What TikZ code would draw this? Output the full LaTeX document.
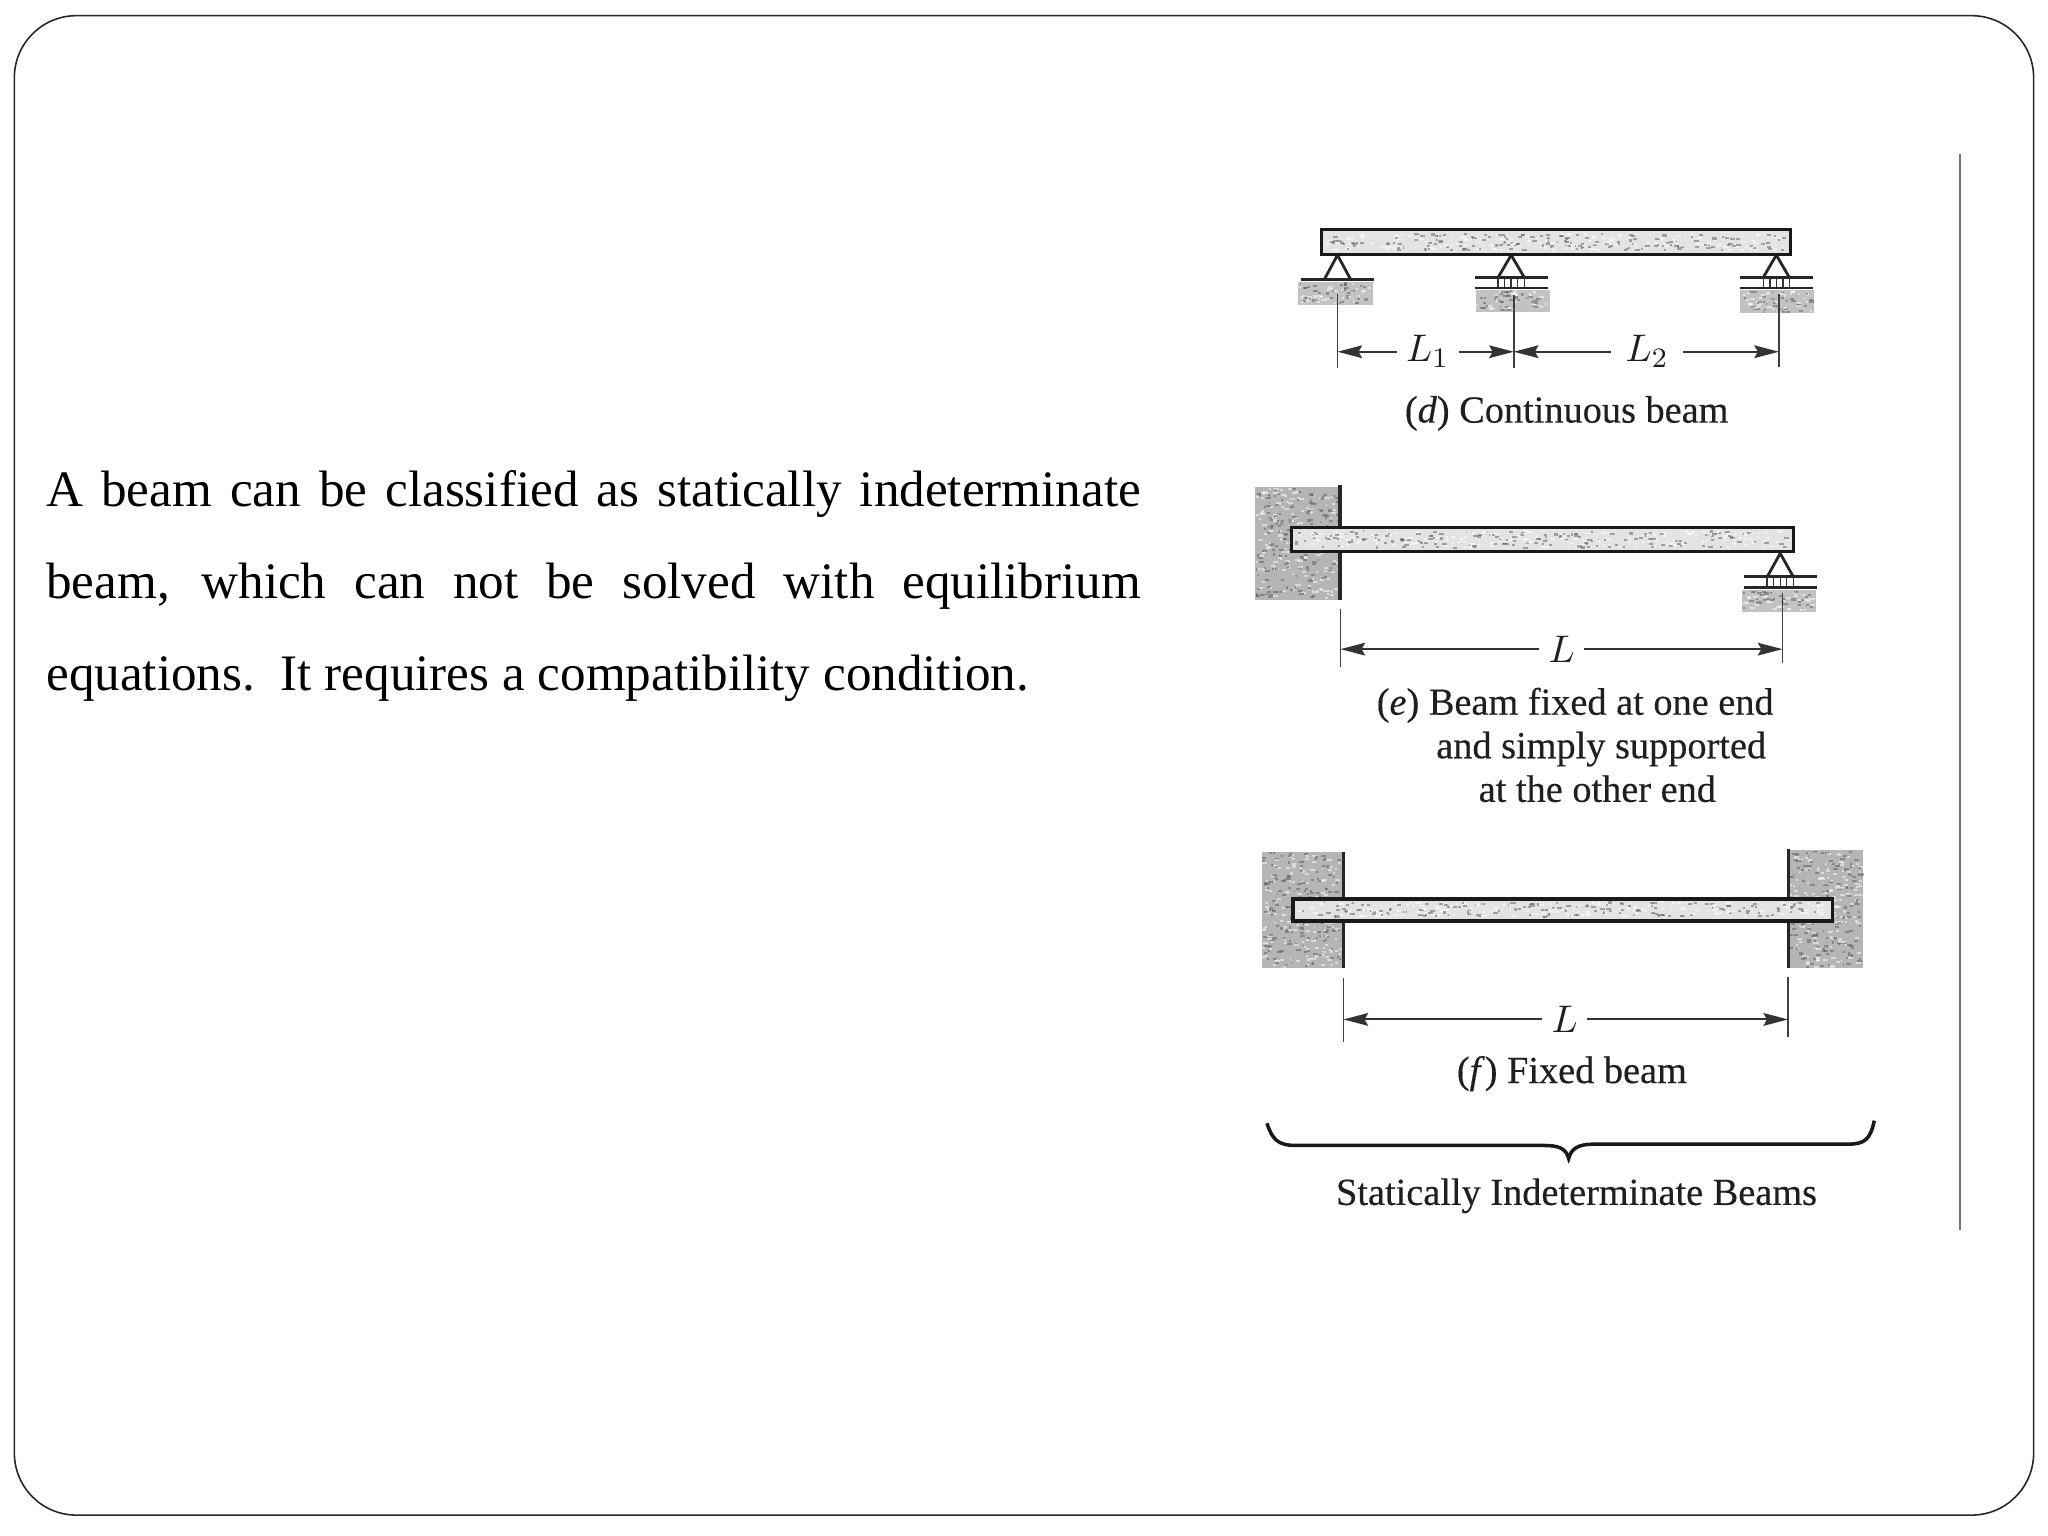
\documentclass[tikz,border=0pt]{standalone}
\usepackage{fontspec}
\newfontfamily\slidefont{Liberation Serif}
\newfontfamily\capfont[FakeBold=0.35]{Liberation Serif}
\usetikzlibrary{arrows.meta}
\tikzset{
  slidetext/.style={anchor=north west, inner sep=0pt, text width=838*0.0130612cm, align=justify, font=\slidefont\fontsize{14.55}{26.1}\selectfont},
  caption/.style={inner sep=0pt, align=center, text=black!88, font=\capfont\fontsize{10.9}{12.4}\selectfont},
  dimlabel/.style={inner sep=2.5pt, text=black!88, font=\fontsize{11}{12}\selectfont},
  beam/.style={draw=black!90, line width=0.9pt, fill=gray!22},
  wall/.style={fill=gray!58},
  ground/.style={fill=gray!48},
  wallline/.style={draw=black!85, line width=1pt},
  extline/.style={draw=black!75, line width=0.5pt},
  dimline/.style={draw=black!80, line width=0.6pt, -{Stealth[length=7pt,width=3.6pt,inset=1pt]}},
  baseline/.style={draw=black!85, line width=0.8pt},
}
% speckle for the printed grey areas
\newcommand{\grit}[5]{%
  \foreach \i in {1,...,#5}{
    \pgfmathsetmacro{\gx}{#1+rnd*(#3-#1-3)}
    \pgfmathsetmacro{\gy}{#2+rnd*(#4-#2-2)}
    \pgfmathsetmacro{\gw}{1+rnd*3}
    \pgfmathsetmacro{\gc}{rnd<0.5 ? 65 : 0}
    \fill[black!\gc!white, opacity=0.5] (\gx,\gy) rectangle ++(\gw,1.6);
  }}
% roller under a beam: apex, first line, second line
\newcommand{\roller}[2]{%
  \draw[baseline] (#1,195.3+#2) -- (#1-10,212.4+#2) (#1,195.3+#2) -- (#1+10,212.4+#2);
  \draw[baseline] (#1-28,212.4+#2) -- (#1+28,212.4+#2);
  \draw[baseline] (#1-28,220.5+#2) -- (#1+28,220.5+#2);
  \foreach \k in {-10,-5,0,5,10}{
    \draw[black!80, line width=0.4pt] (#1+\k,213+#2) -- (#1+\k,220+#2);
  }}
\begin{document}
\begin{tikzpicture}[x=0.0130612cm, y=-0.0130612cm]
  \useasboundingbox (0,0) rectangle (1568,1176);
  \pgfmathsetseed{7}
  \draw[black!85, line width=0.45pt, rounded corners=0.62cm] (11,12) rectangle (1557,1160);
  \draw[black!55, line width=0.6pt] (1500.5,118) -- (1500.5,942);

  \node[slidetext] (body) at (35,360) {A beam can be classified as statically indeterminate\linebreak
    beam, which can not be solved with equilibrium\linebreak
    equations.\ \ It requires a compatibility condition.};

  % (d)
  \fill[ground] (994,216) rectangle (1051,233.5);
  \fill[ground] (1130,222) rectangle (1187,239);
  \fill[ground] (1332,222) rectangle (1389,240);
  \grit{994}{216}{1051}{233.5}{70}
  \grit{1130}{222}{1187}{239}{70}
  \grit{1332}{222}{1389}{240}{70}
  \draw[baseline] (1024,195.3) -- (1014,213.8) (1024,195.3) -- (1034,213.8);
  \draw[baseline] (996,213.8) -- (1052,213.8);
  \roller{1157}{0}
  \roller{1360}{0}
  \fill[beam] (1012,176) rectangle (1371,195);
  \grit{1014}{178}{1369}{193}{330}
  \draw[beam, fill=none] (1012,176) rectangle (1371,195);
  \coordinate (d1t) at (1024,225);
  \coordinate (d1b) at (1024,282);
  \coordinate (d2t) at (1159,226);
  \coordinate (d2b) at (1159,282);
  \coordinate (d3t) at (1362,225);
  \coordinate (d3b) at (1362,281);
  \draw[extline] (d1t) -- (d1b);
  \draw[extline] (d2t) -- (d2b);
  \draw[extline] (d3t) -- (d3b);
  \coordinate (d1) at (1024,269.3);
  \coordinate (d2) at (1159,269.3);
  \coordinate (d3) at (1362,269.3);
  \node[dimlabel] (dL1) at (1093,269.3) {\raisebox{-3pt}{$L_1$}};
  \node[dimlabel, inner sep=4pt] (dL2) at (1261,269.3) {\raisebox{-3pt}{$L_2$}};
  \draw[dimline] (dL1) -- (d1);
  \draw[dimline] (dL1) -- (d2);
  \draw[dimline] (dL2) -- (d2);
  \draw[dimline] (dL2) -- (d3);
  \node[caption] (dcap) at (1199.5,316.5) {(\textit{d}) Continuous beam};

  % (e)
  \fill[wall] (961,372.7) rectangle (1027,459.4);
  \grit{961}{372.7}{1027}{459.4}{330}
  \fill[ground] (1334,452) rectangle (1390,468.4);
  \grit{1334}{452}{1390}{468.4}{65}
  \draw[wallline] (1026,371.4) -- (1026,459.4);
  \draw[baseline] (1363,423.7) -- (1353,441.6) (1363,423.7) -- (1373,441.6);
  \draw[baseline] (1335,441.6) -- (1391,441.6);
  \draw[baseline] (1335,449.7) -- (1391,449.7);
  \foreach \k in {-10,-5,0,5,10}{
    \draw[black!80, line width=0.4pt] (1363+\k,442) -- (1363+\k,449);
  }
  \fill[beam] (989,403.8) rectangle (1373,422.4);
  \grit{991}{406}{1371}{420.5}{340}
  \draw[beam, fill=none] (989,403.8) rectangle (1373,422.4);
  \coordinate (e1t) at (1026.3,466.6);
  \coordinate (e1b) at (1026.3,510.5);
  \coordinate (e2t) at (1364.7,454.3);
  \coordinate (e2b) at (1364.7,507.9);
  \draw[extline] (e1t) -- (e1b);
  \draw[extline] (e2t) -- (e2b);
  \coordinate (e1) at (1026.3,497);
  \coordinate (e2) at (1364.7,497);
  \node[dimlabel] (eL) at (1195.6,497) {\raisebox{-1pt}{$L$}};
  \draw[dimline] (eL) -- (e1);
  \draw[dimline] (eL) -- (e2);
  \node[caption, anchor=north] (ecap) at (1206,526) {(\textit{e}) Beam fixed at one end\\
    \hspace*{14.8pt}and simply supported\\\hspace*{12.6pt}at the other end};

  % (f)
  \fill[wall] (966,652) rectangle (1029,741.4);
  \fill[wall] (1369,651) rectangle (1426.5,741.4);
  \grit{966}{652}{1029}{741.4}{320}
  \grit{1369}{651}{1426.5}{741.4}{300}
  \draw[wallline] (1028.5,652) -- (1028.5,741.4);
  \draw[wallline] (1369.3,650) -- (1369.3,741.4);
  \fill[beam] (990,688) rectangle (1403,705);
  \grit{992}{690}{1401}{703}{340}
  \draw[beam, fill=none, line width=1.1pt] (990,688) rectangle (1403,705);
  \coordinate (f1t) at (1028.6,749);
  \coordinate (f1b) at (1028.6,797.6);
  \coordinate (f2t) at (1369,747.8);
  \coordinate (f2b) at (1369,793.7);
  \draw[extline] (f1t) -- (f1b);
  \draw[extline] (f2t) -- (f2b);
  \coordinate (f1) at (1028.6,780.5);
  \coordinate (f2) at (1369,780.5);
  \node[dimlabel] (fL) at (1198,780.5) {\raisebox{-1pt}{$L$}};
  \draw[dimline] (fL) -- (f1);
  \draw[dimline] (fL) -- (f2);
  \node[caption] (fcap) at (1203.5,822) {(\textit{f}) Fixed beam};

  % brace
  \coordinate (bl) at (970,860);
  \coordinate (bm) at (1201,887);
  \coordinate (br) at (1435,858);
  \draw[black!90, line width=1pt] (bl) .. controls (974,872) and (978,877) .. (992,877)
    -- (1182,877) .. controls (1193,877) and (1199,879) .. (bm)
    .. controls (1203,879) and (1209,876) .. (1220,876) -- (1415,876)
    .. controls (1428,876) and (1432,872) .. (br);
  \node[caption] (title) at (1207,915.5) {Statically Indeterminate Beams};
\end{tikzpicture}
\end{document}
